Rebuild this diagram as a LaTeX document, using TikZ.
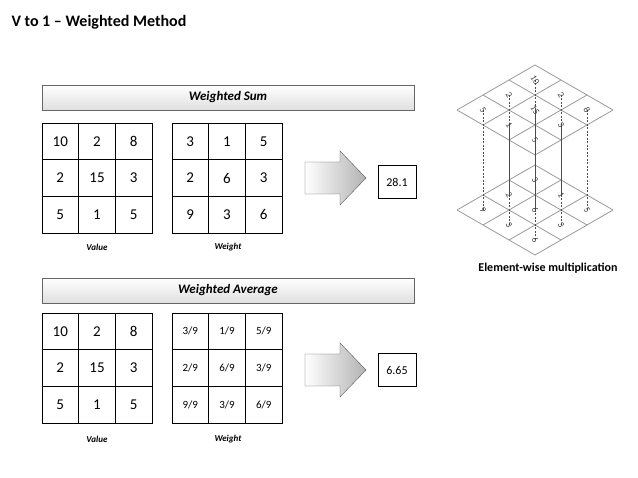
\documentclass[tikz,border=0pt]{standalone}
\usepackage{fontspec}
\setmainfont{Carlito}
\begin{document}
\begin{tikzpicture}[x=1pt,y=-1pt,
  cell/.style={draw,thick,minimum size=36.7pt,inner sep=0pt,font=\fontsize{15}{17}\selectfont},
  fcell/.style={draw,thick,minimum size=36.7pt,inner sep=0pt,font=\fontsize{11}{13}\selectfont},
  banner/.style={draw=gray!80!black,text=black,top color=white,bottom color=gray!25,minimum width=372pt,minimum height=25pt,font=\fontsize{13}{15}\selectfont\bfseries\itshape},
  lab/.style={font=\fontsize{9}{11}\selectfont\bfseries\itshape},
  res/.style={draw,minimum width=38pt,minimum height=33pt,font=\fontsize{12}{14}\selectfont},
  barrow/.style={draw=gray!70!black,left color=white,right color=gray!60},
  iso/.style={draw=gray!80,thick},
  isot/.style={font=\fontsize{9}{10}\selectfont,text=gray!50!black,inner sep=0pt},
  drop/.style={color=red,draw=red,dash pattern=on 2pt off 1.5pt,line width=0.8pt}]
\useasboundingbox (0,0) rectangle (638,478);
\node[anchor=west,font=\fontsize{16}{19}\selectfont\bfseries] (title) at (8,22) {V to 1 – Weighted Method};
% Weighted sum
\node[banner] (b1) at (228,97.5) {Weighted Sum};
\foreach \r/\row in {0/{10,2,8},1/{2,15,3},2/{5,1,5}}{
  \foreach \v [count=\c from 0] in \row {
    \node[cell] (va\r\c) at (60.3+36.7*\c,141.3+36.7*\r) {\v};
    \node[cell] (vb\r\c) at (60.3+36.7*\c,331.3+36.7*\r) {\v};
  }}
\foreach \r/\row in {0/{3,1,5},1/{2,6,3},2/{9,3,6}}{
  \foreach \v [count=\c from 0] in \row {
    \node[cell] (wa\r\c) at (190.3+36.7*\c,141.3+36.7*\r) {\v};
  }}
\foreach \r/\row in {0/{3/9,1/9,5/9},1/{2/9,6/9,3/9},2/{9/9,3/9,6/9}}{
  \foreach \v [count=\c from 0] in \row {
    \node[fcell] (wb\r\c) at (190.3+36.7*\c,331.3+36.7*\r) {\v};
  }}
\node[lab] (l1) at (97,247) {Value};
\node[lab] (l2) at (228,247) {Weight};
\foreach \ay/\nm in {178/a1,370/a2}{
  \path[barrow] (305,\ay-16) -- (340,\ay-16) -- (340,\ay-27) -- (366,\ay) -- (340,\ay+27) -- (340,\ay+16) -- (305,\ay+16) -- cycle;
}
\node[res] (r1) at (397,182) {28.1};
% Weighted average
\node[banner] (b2) at (228,290.5) {Weighted Average};
\node[lab] (l3) at (97,439) {Value};
\node[lab] (l4) at (228,439) {Weight};
\node[res] (r2) at (397,370) {6.65};
% isometric
\foreach \oy in {0,100}{
  \foreach \k in {0,...,3}{
    \draw[iso] (535-26*\k,65+\oy+15*\k) -- ++(78,45);
    \draw[iso] (535+26*\k,65+\oy+15*\k) -- ++(-78,45);
  }}
\foreach \r/\row in {0/{10,2,8},1/{2,15,3},2/{5,1,5}}{
  \foreach \v [count=\c from 0] in \row {
    \coordinate (ut\r\c) at (535+26*\c-26*\r,80+15*\c+15*\r);
    \coordinate (lt\r\c) at (535+26*\c-26*\r,180+15*\c+15*\r);
    \draw[drop] (ut\r\c) -- (lt\r\c);
    \node[isot,rotate=-60] (un\r\c) at (ut\r\c) {\v};
  }}
\foreach \r/\row in {0/{3,1,5},1/{2,6,3},2/{9,3,6}}{
  \foreach \v [count=\c from 0] in \row {
    \node[isot,rotate=-60] (ln\r\c) at (lt\r\c) {\v};
  }}
\node[font=\fontsize{12}{14}\selectfont\bfseries] (em) at (548,268) {Element-wise multiplication};
\end{tikzpicture}
\end{document}
